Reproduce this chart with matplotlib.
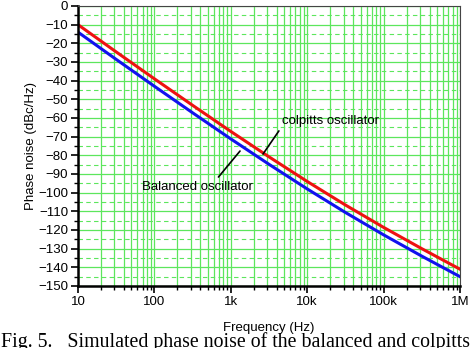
import numpy as np
import matplotlib
matplotlib.use('Agg')
import matplotlib.pyplot as plt
from matplotlib.ticker import LogLocator, FixedLocator, NullFormatter

plt.rcParams['font.family'] = ['Liberation Sans', 'DejaVu Sans']

freq = [10, 31.6, 100, 316, 1e3, 3.16e3, 1e4, 3.16e4, 1e5, 3.16e5, 1e6]
colpitts = [-10, -24.6, -39, -53.2, -67.2, -80.8, -94, -106.6, -118.6, -130, -141]
balanced = [-14, -28.6, -43, -57.2, -71.2, -84.8, -98, -110.6, -122.6, -134, -145]

xticks = [10, 100, 1e3, 1e4, 1e5, 1e6]
xticklabels = ['10', '100', '1k', '10k', '100k', '1M']
yticks = list(range(0, -151, -10))

fig = plt.figure(figsize=(4.74, 3.48), dpi=100)
ax = fig.add_axes([78/474, 1 - 286/348, 382/474, 280/348])

grid_c = '#5ce65c'
ax.set_xscale('log')
ax.set_xlim(10, 1e6)
ax.set_ylim(-150, 0)

ax.xaxis.set_major_locator(FixedLocator(xticks))
ax.xaxis.set_minor_locator(LogLocator(base=10, subs=np.arange(2, 10)))
ax.xaxis.set_minor_formatter(NullFormatter())
ax.set_xticklabels(xticklabels)
ax.yaxis.set_major_locator(FixedLocator(yticks))
ax.yaxis.set_minor_locator(FixedLocator(list(range(-145, 0, 10))))

ax.grid(True, which='major', axis='both', color=grid_c, lw=0.9, ls='-')
ax.grid(True, which='minor', axis='x', color=grid_c, lw=0.9, ls='-')
ax.grid(True, which='minor', axis='y', color=grid_c, lw=0.8, ls=(0, (4, 3)))
ax.set_axisbelow(True)

ax.plot(freq, colpitts, color='#ee1111', lw=2.2)
ax.plot(freq, balanced, color='#1111ee', lw=2.2)

for s in ['left', 'bottom']:
    ax.spines[s].set_linewidth(1.8)
    ax.spines[s].set_color('black')
for s in ['top', 'right']:
    ax.spines[s].set_linewidth(0.8)
    ax.spines[s].set_color('#444444')

ax.tick_params(which='major', direction='out', length=5, width=1.2, labelsize=9.5, pad=2)
ax.tick_params(which='minor', direction='out', length=3, width=1.0)

ax.set_xlabel('Frequency (Hz)', fontsize=9.5, labelpad=10)
ax.set_ylabel('Phase noise (dBc/Hz)', fontsize=9.5, labelpad=1)

ax.annotate('colpitts oscillator', xy=(2640, -79.3), xytext=(4680, -61.6),
            fontsize=9.5, va='center', ha='left',
            arrowprops=dict(arrowstyle='-', color='black', lw=1.2, shrinkA=1, shrinkB=0,
                            relpos=(0, 0.05)))
ax.annotate('Balanced oscillator', xy=(1320, -77.7), xytext=(1950, -96.9),
            fontsize=9.5, va='center', ha='right',
            arrowprops=dict(arrowstyle='-', color='black', lw=1.2, shrinkA=1, shrinkB=0,
                            relpos=(0.66, 1.0)))

# caption, partly cut by the bottom edge as in the source
fig.text(0.003, 1 - 347/348, 'Fig. 5.   Simulated phase noise of the balanced and colpitts',
         family=['Liberation Serif'], fontsize=14.3, ha='left', va='baseline')

fig.savefig('out.png', dpi=100)
